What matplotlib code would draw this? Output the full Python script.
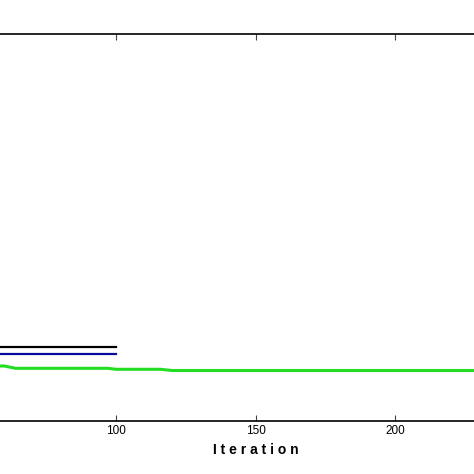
import matplotlib
matplotlib.use('Agg')
import matplotlib.pyplot as plt

# data (y axis is cropped, so arbitrary units 0..1)
black_x = [0, 100]
black_y = [0.191, 0.191]
blue_x = [0, 100]
blue_y = [0.174, 0.174]
green_x = [0, 60, 64, 97, 100, 116, 120, 300]
green_y = [0.1421, 0.1421, 0.1362, 0.1362, 0.1336, 0.1336, 0.1305, 0.1305]

xticks = [0, 50, 100, 150, 200, 250, 300]
shown = [100, 150, 200]  # only these fall inside the cropped picture

W = 474.0
fig = plt.figure(figsize=(4.74, 4.74), dpi=100)
# axes wider than the figure: the reference is a crop
left_px, right_px = 116 - 100 * 2.79, 116 + 200 * 2.79
top_px, bot_px = 34, 421
ax = fig.add_axes([left_px / W, (W - bot_px) / W,
                   (right_px - left_px) / W, (bot_px - top_px) / W])

ax.plot(black_x, black_y, color='black', lw=1.6)
ax.plot(blue_x, blue_y, color='#0a0aa0', lw=1.6)
ax.plot(green_x, green_y, color='#22dd22', lw=2.2)

ax.set_xlim(0, 300)
ax.set_ylim(0, 1)
ax.set_xticks(xticks)
ax.set_xticklabels([str(t) if t in shown else '' for t in xticks],
                   fontsize=8.5, family='Liberation Sans')
ax.set_yticks([])
ax.tick_params(direction='in', length=4, width=0.8, color='#444444',
               top=True, right=True, pad=3)
for s in ax.spines.values():
    s.set_linewidth(1.2)
ax.set_xlabel('I t e r a t i o n', fontsize=10, fontweight='bold',
              family='Liberation Sans', labelpad=4)

fig.savefig('out.png', dpi=100)
